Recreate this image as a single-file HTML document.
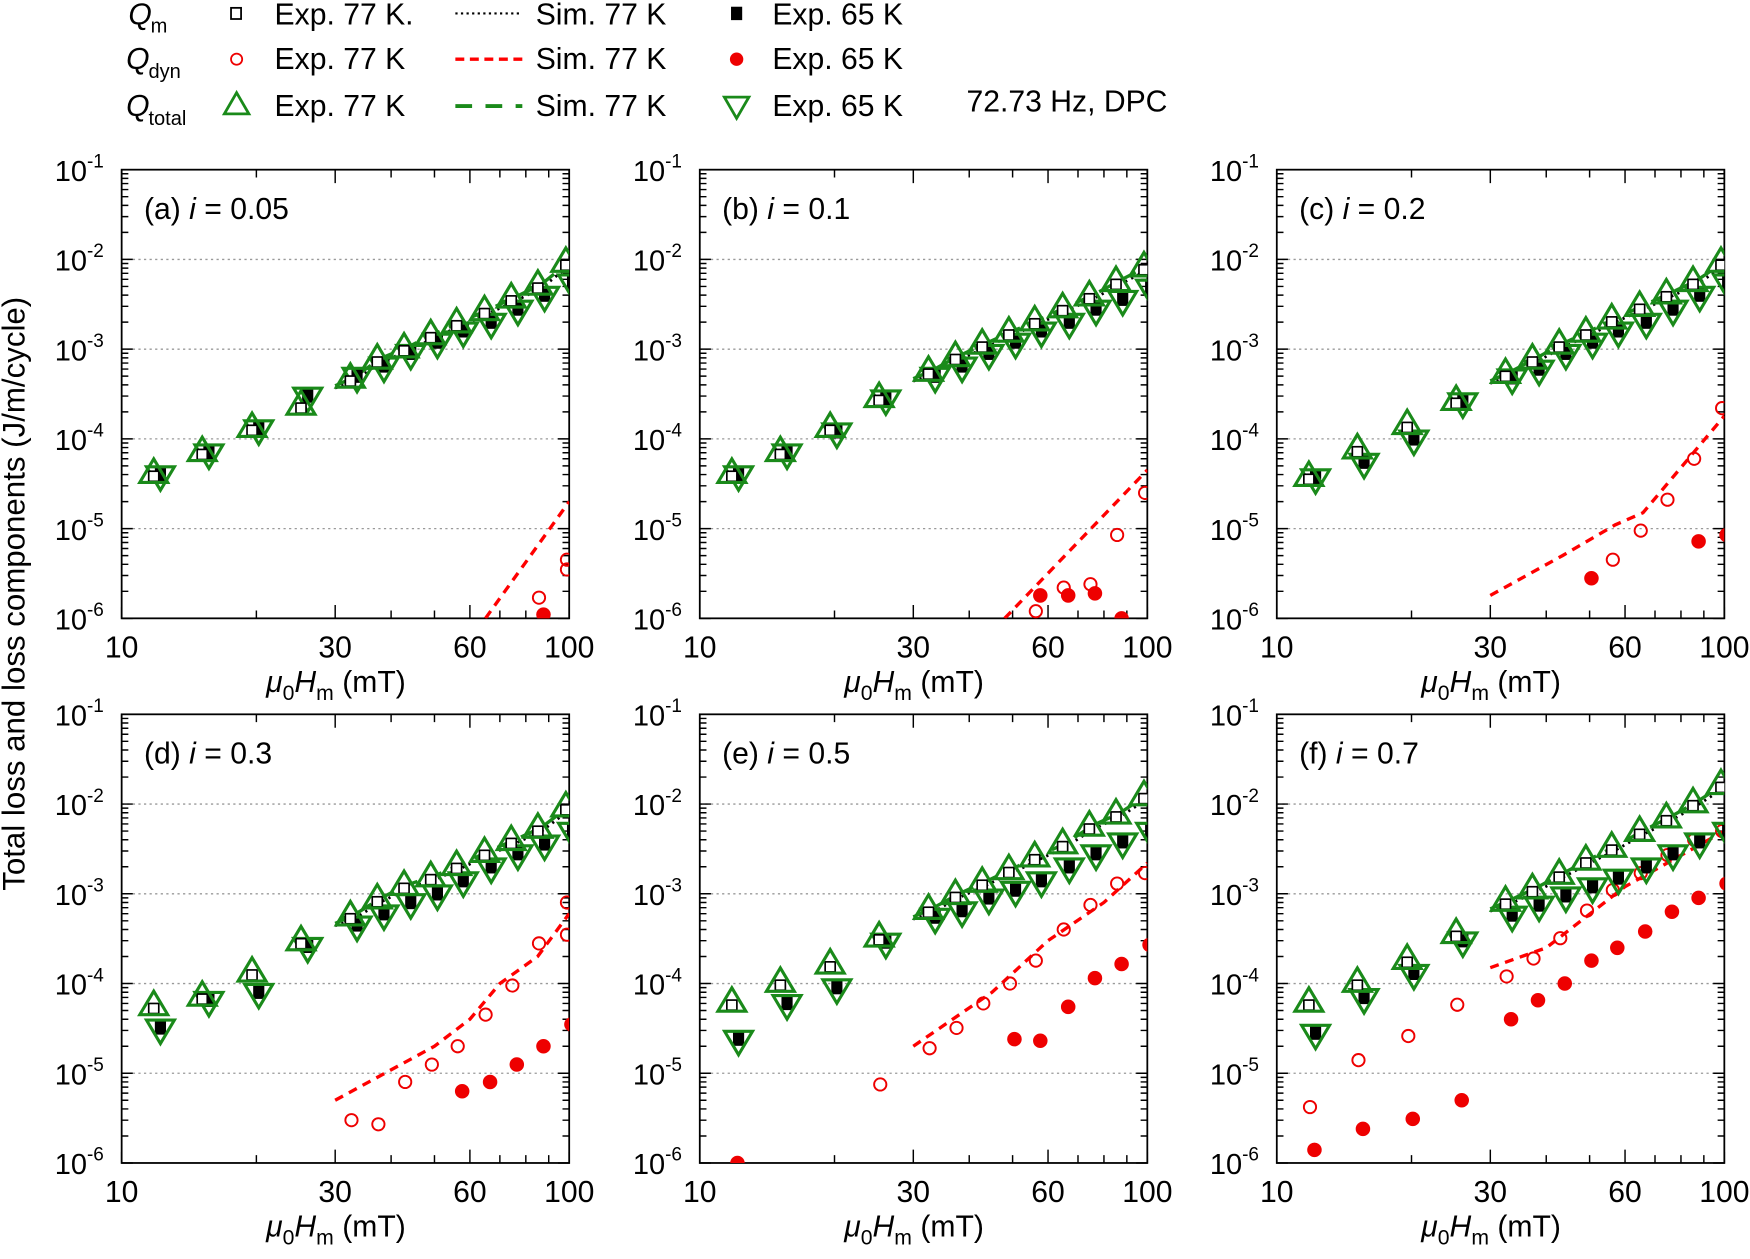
<!DOCTYPE html>
<html><head><meta charset="utf-8"><style>
html,body{margin:0;padding:0;background:#fff}
svg{display:block;font-family:"Liberation Sans",Arial,sans-serif}
</style></head><body>
<svg id="s" width="1750" height="1259" viewBox="0 0 1568 1128" xmlns="http://www.w3.org/2000/svg">
<g id="legend" font-size="27" fill="#000">
<text x="115" y="22" font-style="italic">Q</text><text x="135" y="29" font-size="18">m</text>
<text x="113" y="62" font-style="italic">Q</text><text x="133" y="70" font-size="18">dyn</text>
<text x="113" y="104" font-style="italic">Q</text><text x="133" y="112" font-size="18">total</text>
<rect x="207" y="7" width="9" height="10" fill="none" stroke="#000" stroke-width="1.6"/>
<text x="246" y="22">Exp. 77 K.</text>
<circle cx="212" cy="53" r="5" fill="none" stroke="#e00" stroke-width="1.6"/>
<text x="246" y="62">Exp. 77 K</text>
<path d="M212 83 L223 102 L201 102 Z" fill="none" stroke="#1a8a1a" stroke-width="2.5"/>
<text x="246" y="104">Exp. 77 K</text>
<line x1="408" y1="12" x2="468" y2="12" stroke="#000" stroke-width="2" stroke-dasharray="2,3"/>
<text x="480" y="22">Sim. 77 K</text>
<line x1="408" y1="53" x2="468" y2="53" stroke="#f00" stroke-width="3" stroke-dasharray="8,5"/>
<text x="480" y="62">Sim. 77 K</text>
<line x1="408" y1="95" x2="468" y2="95" stroke="#1a8a1a" stroke-width="3.5" stroke-dasharray="15,12"/>
<text x="480" y="104">Sim. 77 K</text>
<rect x="655" y="6" width="10" height="12" fill="#000"/>
<text x="692" y="22">Exp. 65 K</text>
<circle cx="660" cy="53" r="6" fill="#e00"/>
<text x="692" y="62">Exp. 65 K</text>
<path d="M649 87 L671 87 L660 106 Z" fill="none" stroke="#1a8a1a" stroke-width="2.5"/>
<text x="692" y="104">Exp. 65 K</text>
<text x="866" y="100">72.73 Hz, DPC</text>
</g>
<text transform="translate(22,532) rotate(-90)" text-anchor="middle" font-size="28">Total loss and loss components (J/m/cycle)</text>
</svg>
<script>
const NS="http://www.w3.org/2000/svg",S=document.getElementById('s');
function el(t,a,p){const e=document.createElementNS(NS,t);for(const k in a)e.setAttribute(k,a[k]);(p||S).appendChild(e);return e;}
const H=[12,15.4,19.9,25.6,33,37.9,43.5,49.9,57,65.8,75.5,86.6,100];
const L=v=>Math.log10(v);
const panels=[
{x0:109,y0:152,lab:"(a) ",iv:"0.05",
 up:[4e-5,7e-5,1.3e-4,2.3e-4,4.6e-4,7.5e-4,1e-3,1.4e-3,1.9e-3,2.6e-3,3.6e-3,5e-3,9e-3],
 dn:[4e-5,7e-5,1.3e-4,3e-4,5e-4,6.5e-4,9e-4,1.2e-3,1.6e-3,2e-3,2.8e-3,4e-3,5.5e-3],
 qo:[[86.6,1.7e-6],[100,4.5e-6],[100,3.5e-6]],qf:[[86.6,1.1e-6]],
 rs:[[65,1e-6],[100,2e-5]]},
{x0:627,y0:152,lab:"(b) ",iv:"0.1",
 up:[4e-5,7e-5,1.3e-4,2.8e-4,5.5e-4,8e-4,1.1e-3,1.5e-3,2e-3,2.8e-3,3.8e-3,5.5e-3,8e-3],
 dn:[4e-5,7e-5,1.2e-4,2.8e-4,5e-4,6.5e-4,9e-4,1.2e-3,1.6e-3,2e-3,2.8e-3,3.6e-3,4.8e-3],
 qo:[[57,1.2e-6],[65.8,2.2e-6],[75.5,2.4e-6],[86.6,8.5e-6],[100,2.5e-5]],qf:[[57,1.8e-6],[65.8,1.8e-6],[75.5,1.9e-6],[86.6,1e-6]],
 rs:[[48,1e-6],[100,4.5e-5]]},
{x0:1144,y0:152,lab:"(c) ",iv:"0.2",
 up:[3.7e-5,7.5e-5,1.4e-4,2.6e-4,5.2e-4,7.5e-4,1.1e-3,1.5e-3,2.1e-3,2.9e-3,4e-3,5.5e-3,9e-3],
 dn:[3.7e-5,5.5e-5,1e-4,2.6e-4,4.8e-4,6e-4,9e-4,1.2e-3,1.6e-3,2e-3,2.8e-3,4e-3,5.5e-3],
 qo:[[57,4.5e-6],[65.8,9.5e-6],[75.5,2.1e-5],[86.6,6e-5],[100,2.2e-4]],qf:[[49.9,2.8e-6],[86.6,7.2e-6],[100,8.5e-6]],
 rs:[[30,1.8e-6],[43.5,5e-6],[57,1.1e-5],[65.8,1.5e-5],[100,1.8e-4]]},
{x0:109,y0:640,lab:"(d) ",iv:"0.3",
 up:[5.5e-5,7e-5,1.3e-4,2.9e-4,5.5e-4,8.5e-4,1.2e-3,1.5e-3,2e-3,2.8e-3,3.8e-3,5.2e-3,9e-3],
 dn:[3.2e-5,6.5e-5,8e-5,2.6e-4,4.5e-4,6e-4,8e-4,1e-3,1.4e-3,2e-3,2.8e-3,3.6e-3,5e-3],
 qo:[[33,3e-6],[37.9,2.7e-6],[43.5,8e-6],[49.9,1.25e-5],[57,2e-5],[65.8,4.5e-5],[75.5,9.5e-5],[86.6,2.8e-4],[100,8e-4],[100,3.5e-4]],
 qf:[[57,6.3e-6],[65.8,8e-6],[75.5,1.25e-5],[86.6,2e-5],[100,3.5e-5]],
 rs:[[30,5e-6],[50,2e-5],[60,4e-5],[70,1e-4],[85,2e-4],[100,6e-4]]},
{x0:627,y0:640,lab:"(e) ",iv:"0.5",
 up:[6e-5,1e-4,1.6e-4,3.2e-4,6.5e-4,9.5e-4,1.3e-3,1.8e-3,2.5e-3,3.5e-3,5.5e-3,7.5e-3,1.2e-2],
 dn:[2.4e-5,6e-5,9e-5,2.9e-4,5.5e-4,6.5e-4,9e-4,1.1e-3,1.4e-3,2e-3,2.8e-3,3.8e-3,5e-3],
 qo:[[25.6,7.5e-6],[33,1.9e-5],[37.9,3.2e-5],[43.5,6e-5],[49.9,1e-4],[57,1.8e-4],[65.8,4e-4],[75.5,7.5e-4],[86.6,1.3e-3],[100,1.7e-3]],
 qf:[[12,1e-6],[49.9,2.4e-5],[57,2.3e-5],[65.8,5.5e-5],[75.5,1.15e-4],[86.6,1.65e-4],[100,2.7e-4]],
 rs:[[30,2e-5],[45,8e-5],[60,3e-4],[80,8e-4],[100,2.2e-3]]},
{x0:1144,y0:640,lab:"(f) ",iv:"0.7",
 up:[6e-5,1e-4,1.8e-4,3.5e-4,8e-4,1.1e-3,1.6e-3,2.3e-3,3.2e-3,4.8e-3,6.8e-3,1e-2,1.6e-2],
 dn:[2.8e-5,7e-5,1.3e-4,3e-4,5.8e-4,7.5e-4,9.5e-4,1.2e-3,1.5e-3,2e-3,2.8e-3,3.8e-3,5e-3],
 qo:[[12,4.2e-6],[15.4,1.4e-5],[19.9,2.6e-5],[25.6,5.8e-5],[33,1.2e-4],[37.9,1.9e-4],[43.5,3.2e-4],[49.9,6.5e-4],[57,1.1e-3],[65.8,1.7e-3],[75.5,2.7e-3],[86.6,4e-3],[100,5e-3]],
 qf:[[12,1.4e-6],[15.4,2.4e-6],[19.9,3.1e-6],[25.6,5e-6],[33,4e-5],[37.9,6.5e-5],[43.5,1e-4],[49.9,1.8e-4],[57,2.5e-4],[65.8,3.8e-4],[75.5,6.3e-4],[86.6,9e-4],[100,1.3e-3]],
 rs:[[30,1.5e-4],[40,2.5e-4],[60,1.2e-3],[100,5e-3]]}
];
const W=401,D=80.4,G="#1a8a1a";
panels.forEach(p=>{
 const X=h=>p.x0+(L(h)-1)*W, Y=v=>p.y0+(-1-L(v))*D;
 const g=el('g',{});
 const clip='c'+p.x0+p.y0;
 const cp=el('clipPath',{id:clip},g);el('rect',{x:p.x0,y:p.y0,width:W,height:5*D},cp);
 for(let k=2;k<=5;k++){const y=p.y0+(k-1)*D;el('line',{x1:p.x0,x2:p.x0+W,y1:y,y2:y,stroke:"#999","stroke-width":1.2,"stroke-dasharray":"2,3"},g);}
 let tk="";
 for(let k=0;k<5;k++)for(let m=1;m<=10;m++){const y=p.y0+(k+1-L(m))*D;const len=(m==1||m==10)?10:6;tk+=`M${p.x0} ${y}h${len}M${p.x0+W} ${y}h${-len}`;}
 for(let h=10;h<=100;h+=10){const x=X(h);const len=(h==10||h==100)?10:7;tk+=`M${x} ${p.y0+5*D}v${-len}M${x} ${p.y0}v${len}`;}
 [30,60].forEach(h=>{const x=X(h);tk+=`M${x} ${p.y0+5*D}v-12M${x} ${p.y0}v12`;});
 el('path',{d:tk,stroke:"#000","stroke-width":1.3,fill:"none"},g);
 el('rect',{x:p.x0,y:p.y0,width:W,height:5*D,fill:"none",stroke:"#000","stroke-width":1.6},g);
 for(let k=1;k<=6;k++){const y=p.y0+(k-1)*D;const t=el('text',{x:p.x0-60,y:y+10,"font-size":26},g);t.textContent="10";const s=el('tspan',{dy:-12,"font-size":17},t);s.textContent="-"+k;}
 [[10,"10"],[30,"30"],[60,"60"],[100,"100"]].forEach(([h,s])=>{const t=el('text',{x:X(h),y:p.y0+5*D+35,"font-size":27,"text-anchor":"middle"},g);t.textContent=s;});
 const xt=el('text',{x:p.x0+192,y:p.y0+5*D+66,"font-size":27,"text-anchor":"middle"},g);
 xt.innerHTML='<tspan font-style="italic">μ</tspan><tspan font-size="19" dy="7">0</tspan><tspan font-style="italic" dy="-7">H</tspan><tspan font-size="19" dy="7">m</tspan><tspan dy="-7"> (mT)</tspan>';
 const lt=el('text',{x:p.x0+20,y:p.y0+44,"font-size":27},g);
 lt.innerHTML=p.lab+'<tspan font-style="italic">i</tspan> = '+p.iv;
 const d=el('g',{"clip-path":`url(#${clip})`},g);
 const pts=arr=>arr.map(a=>X(a[0]).toFixed(1)+","+Y(a[1]).toFixed(1)).join(" ");
 const bl=[],gl=[];for(let i=4;i<13;i++){bl.push([H[i],p.up[i]*0.95]);gl.push([H[i],p.up[i]*1.05]);}
 bl.unshift([30,p.up[4]*0.8]);gl.unshift([30,p.up[4]*0.85]);
 el('polyline',{points:pts(bl),fill:"none",stroke:"#000","stroke-width":2.5,"stroke-dasharray":"2,4"},d);
 el('polyline',{points:pts(gl),fill:"none",stroke:G,"stroke-width":3,"stroke-dasharray":"14,9"},d);
 el('polyline',{points:pts(p.rs),fill:"none",stroke:"#f00","stroke-width":3,"stroke-dasharray":"8,6"},d);
 p.qo.forEach(a=>el('circle',{cx:X(a[0])-2,cy:Y(a[1]),r:5.5,fill:"none",stroke:"#e00","stroke-width":1.7},d));
 p.qf.forEach(a=>el('circle',{cx:X(a[0])+2,cy:Y(a[1]),r:6.5,fill:"#e00"},d));
 H.forEach((h,i)=>{
  const xu=X(h)-3,yu=Y(p.up[i]),xd=X(h)+3,yd=Y(p.dn[i]);
  el('rect',{x:xd-5,y:yd-7,width:10,height:13,fill:"#000"},d);
  el('path',{d:`M${xd} ${yd+14} L${xd+12.5} ${yd-7} L${xd-12.5} ${yd-7} Z`,fill:"none",stroke:G,"stroke-width":2.8},d);
  el('rect',{x:xu-4.5,y:yu-3,width:9,height:9,fill:"#fff",stroke:"#000","stroke-width":1.5},d);
  el('path',{d:`M${xu} ${yu-14} L${xu+12.5} ${yu+7} L${xu-12.5} ${yu+7} Z`,fill:"none",stroke:G,"stroke-width":2.8},d);
 });
});
</script>
</body></html>
